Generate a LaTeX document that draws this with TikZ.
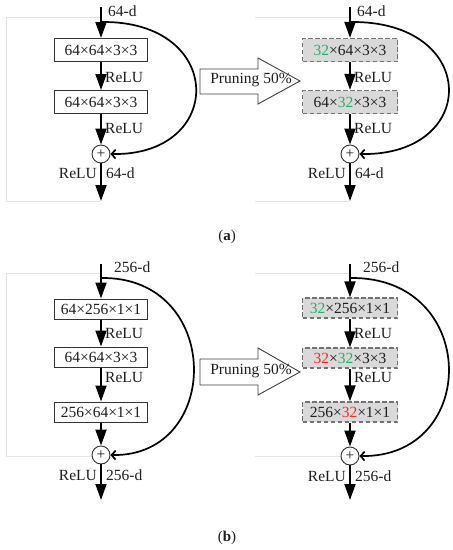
\documentclass[tikz,border=0pt]{standalone}
\usepackage{fontspec}
\setmainfont{Liberation Serif}
\usetikzlibrary{arrows.meta}
\definecolor{pgreen}{HTML}{22B06A}
\definecolor{pred}{HTML}{F02828}
\definecolor{frameg}{HTML}{E4E4E4}
\definecolor{txt}{HTML}{1E1E1E}
\begin{document}
\begin{tikzpicture}[x=1pt,y=-1pt,
  every node/.style={text=txt,font=\fontsize{15.5}{18}\selectfont},
  plainbox/.style={draw=black!80,line width=1pt,fill=white,minimum width=93pt,minimum height=23pt,inner sep=0pt},
  prunebox/.style={draw=black!55,line width=1.3pt,dash pattern=on 4.5pt off 2.5pt,fill=black!15,minimum width=95pt,minimum height=23pt,inner sep=0pt},
  sumnode/.style={circle,draw=black!80,line width=0.9pt,fill=white,minimum size=18pt,inner sep=0pt},
  mainarrow/.style={line width=1.8pt,-{Triangle[length=16pt,width=11pt]}},
  skiparrow/.style={line width=1.7pt,-{Straight Barb[length=4pt,width=9pt]}},
  lbl/.style={inner sep=0pt},
  framel/.style={draw=frameg,line width=0.8pt},
  prunearrow/.style={draw=black!75,line width=0.9pt,fill=white}
]
\useasboundingbox (0,0) rectangle (453,550);
% ---------- frames ----------
\draw[framel] (100,17) -- (6,17) -- (6,201) -- (100,201);
\draw[framel] (255,17) -- (349,17);
\draw[framel] (255,201) -- (349,201);
\draw[framel] (100,273) -- (6,273) -- (6,456) -- (92,456);
\draw[framel] (255,273) -- (349,273);
\draw[framel] (255,456) -- (341,456);

% ================= (a) left =================
\coordinate (aLtop) at (101,7);
\coordinate (aLbr) at (101,22);
\node[plainbox] (aL1) at (101,50) {64×64×3×3};
\node[plainbox] (aL2) at (101,102) {64×64×3×3};
\node[sumnode] (aLs) at (101,154) {+};
\coordinate (aLbot) at (101,201);
\draw[mainarrow] (aLtop) -- (aL1.north);
\draw[mainarrow] (aL1) -- (aL2);
\draw[mainarrow] (aL2) -- (aLs);
\draw[mainarrow] (aLs) -- (aLbot);
\draw[skiparrow] (aLbr) .. controls (226,20) and (226,156) .. (aLs.east);
\node[lbl,anchor=west] (aLd1) at (108,11) {64-d};
\node[lbl,anchor=west] (aLr1) at (105,77) {ReLU};
\node[lbl,anchor=west] (aLr2) at (105,128) {ReLU};
\node[lbl,anchor=east] (aLr3) at (97,173) {ReLU};
\node[lbl,anchor=west] (aLd2) at (106,173) {64-d};

% pruning arrow (a)
\draw[prunearrow] (200,69) -- (258,69) -- (258,58) -- (300,81) -- (258,104) -- (258,94) -- (200,94) -- cycle;
\node (aP) at (251,80) {Pruning 50\%};

% ================= (a) right =================
\coordinate (aRtop) at (350,7);
\coordinate (aRbr) at (350,22);
\node[prunebox] (aR1) at (350,50) {\textcolor{pgreen}{32}×64×3×3};
\node[prunebox] (aR2) at (350,102) {64×\textcolor{pgreen}{32}×3×3};
\node[sumnode] (aRs) at (350,154) {+};
\coordinate (aRbot) at (350,201);
\draw[mainarrow] (aRtop) -- (aR1.north);
\draw[mainarrow] (aR1) -- (aR2);
\draw[mainarrow] (aR2) -- (aRs);
\draw[mainarrow] (aRs) -- (aRbot);
\draw[skiparrow] (aRbr) .. controls (480,20) and (480,156) .. (aRs.east);
\node[lbl,anchor=west] (aRd1) at (357,11) {64-d};
\node[lbl,anchor=west] (aRr1) at (354,77) {ReLU};
\node[lbl,anchor=west] (aRr2) at (354,128) {ReLU};
\node[lbl,anchor=east] (aRr3) at (346,173) {ReLU};
\node[lbl,anchor=west] (aRd2) at (355,173) {64-d};

\node (capa) at (227,237) {\fontsize{15}{17}\selectfont(\textbf{a})};

% ================= (b) left =================
\coordinate (bLtop) at (101,264);
\coordinate (bLbr) at (101,278);
\node[plainbox,minimum height=20pt] (bL1) at (101,309) {64×256×1×1};
\node[plainbox,minimum height=20pt] (bL2) at (101,357) {64×64×3×3};
\node[plainbox,minimum height=20pt] (bL3) at (101,412) {256×64×1×1};
\node[sumnode] (bLs) at (101,455) {+};
\coordinate (bLbot) at (101,500);
\draw[mainarrow] (bLtop) -- (bL1.north);
\draw[mainarrow] (bL1) -- (bL2);
\draw[mainarrow] (bL2) -- (bL3);
\draw[mainarrow] (bL3) -- (bLs);
\draw[mainarrow] (bLs) -- (bLbot);
\draw[skiparrow] (bLbr) .. controls (223,276) and (223,457) .. (bLs.east);
\node[lbl,anchor=west] (bLd1) at (114,267) {256-d};
\node[lbl,anchor=west] (bLr1) at (105,333) {ReLU};
\node[lbl,anchor=west] (bLr2) at (105,377) {ReLU};
\node[lbl,anchor=east] (bLr3) at (97,475) {ReLU};
\node[lbl,anchor=west] (bLd2) at (106,475) {256-d};

% pruning arrow (b)
\draw[prunearrow] (200,359) -- (258,359) -- (258,348) -- (300,372) -- (258,395) -- (258,385) -- (200,385) -- cycle;
\node (bP) at (251,371) {Pruning 50\%};

% ================= (b) right =================
\coordinate (bRtop) at (350,264);
\coordinate (bRbr) at (350,278);
\node[prunebox,minimum height=20pt] (bR1) at (350,308) {\textcolor{pgreen}{32}×256×1×1};
\node[prunebox,minimum height=20pt] (bR2) at (350,358) {\textcolor{pred}{32}×\textcolor{pgreen}{32}×3×3};
\node[prunebox,minimum height=20pt] (bR3) at (350,412) {256×\textcolor{pred}{32}×1×1};
\node[sumnode] (bRs) at (350,456) {+};
\coordinate (bRbot) at (350,500);
\draw[mainarrow] (bRtop) -- (bR1.north);
\draw[mainarrow] (bR1) -- (bR2);
\draw[mainarrow] (bR2) -- (bR3);
\draw[mainarrow] (bR3) -- (bRs);
\draw[mainarrow] (bRs) -- (bRbot);
\draw[skiparrow] (bRbr) .. controls (480,276) and (480,458) .. (bRs.east);
\node[lbl,anchor=west] (bRd1) at (363,267) {256-d};
\node[lbl,anchor=west] (bRr1) at (354,333) {ReLU};
\node[lbl,anchor=west] (bRr2) at (354,377) {ReLU};
\node[lbl,anchor=east] (bRr3) at (346,476) {ReLU};
\node[lbl,anchor=west] (bRd2) at (355,476) {256-d};

\node (capb) at (227,538) {\fontsize{15}{17}\selectfont(\textbf{b})};
\end{tikzpicture}
\end{document}
